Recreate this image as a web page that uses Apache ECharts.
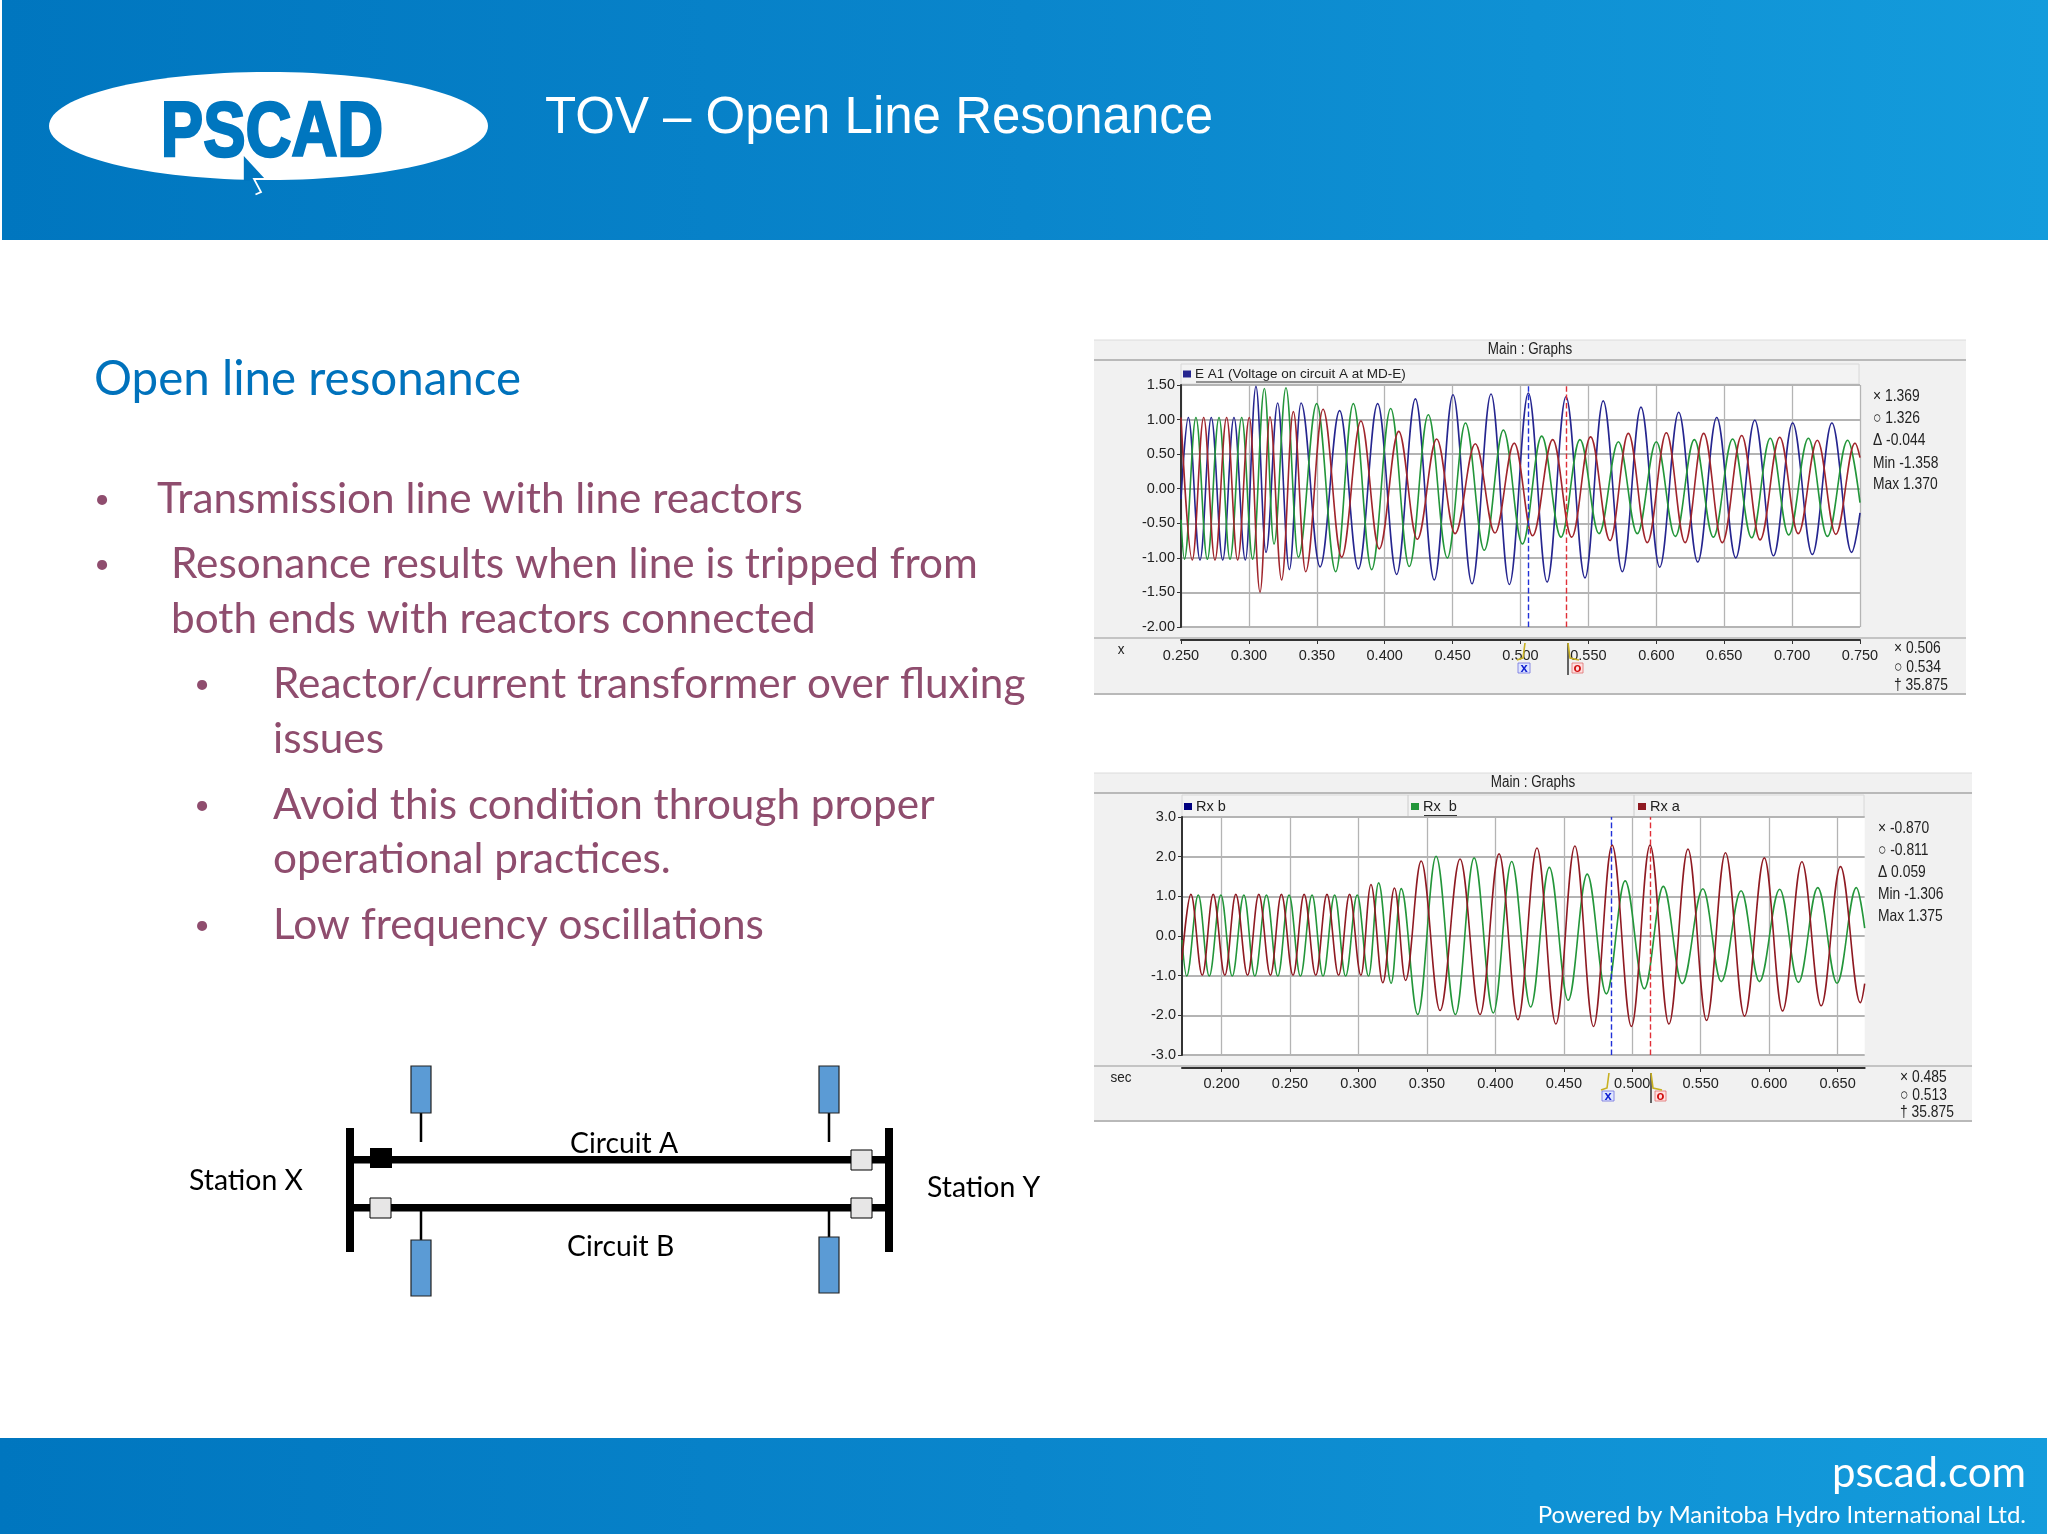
<!DOCTYPE html>
<html><head><meta charset="utf-8"><title>TOV – Open Line Resonance</title>
<style>html,body{margin:0;padding:0;background:#fff}#c{width:2048px;height:1536px}</style>
<script src="https://cdn.jsdelivr.net/npm/echarts@6/dist/echarts.min.js"></script></head>
<body><div id="c"></div><script>
// ---- Upper graph: E A1 (turning points: [time, value])
var upperTickX=[0.25,0.30,0.35,0.40,0.45,0.50,0.55,0.60,0.65,0.70,0.75];
var upperBlue=[[.25,-.15],[.2554,1.03],[.2640,-1.03],[.2723,1.03],[.2807,-1.03],[.2890,1.03],[.2974,-1.03],[.3052,1.48],[.3126,-.92],[.3212,1.24],[.3298,-1.17],[.3384,1.24],[.3524,-1.13],[.3668,1.13],[.3806,-1.16],[.3948,1.23],[.4088,-1.24],[.4226,1.30],[.4365,-1.32],[.4503,1.36],[.4643,-1.375],[.4783,1.37],[.4918,-1.385],[.5058,1.385],[.5196,-1.35],[.5335,1.33],[.5475,-1.29],[.5609,1.27],[.5750,-1.20],[.5887,1.18],[.6025,-1.135],[.6165,1.105],[.6305,-1.06],[.6445,1.03],[.6585,-1.0],[.6725,.99],[.6863,-.97],[.7004,.95],[.7149,-.95],[.7293,.95],[.7438,-.92],[.75,-.35]];
var upperGreen=[[.25,-.45],[.2525,-1.02],[.2610,1.03],[.2694,-1.02],[.2780,1.03],[.2861,-1.02],[.2947,1.03],[.3028,-1.02],[.3114,1.45],[.3185,-.8],[.3273,1.46],[.3364,-.99],[.3499,1.23],[.3639,-1.2],[.3769,1.23],[.3904,-1.17],[.4044,1.16],[.4181,-1.125],[.4321,1.07],[.4461,-1.0],[.4595,.95],[.4733,-.89],[.4874,.85],[.5014,-.80],[.5156,.76],[.5298,-.70],[.5438,.71],[.5578,-.65],[.5721,.68],[.5860,-.65],[.6000,.68],[.6140,-.69],[.6280,.71],[.6420,-.70],[.6562,.72],[.6702,-.71],[.6839,.73],[.6975,-.67],[.7120,.73],[.7260,-.69],[.7409,.70],[.75,-.2]];
var upperRed=[[.25,1.03],[.2583,-1.03],[.2667,1.03],[.2750,-1.03],[.2836,1.03],[.2917,-1.03],[.3003,1.03],[.3082,-1.495],[.3155,1.04],[.3241,-1.32],[.3327,1.115],[.3418,-1.2],[.3546,1.15],[.3683,-.99],[.3825,.98],[.3960,-.87],[.4103,.83],[.4240,-.73],[.4383,.72],[.4518,-.65],[.4667,.65],[.4812,-.64],[.4954,.66],[.5089,-.68],[.5237,.71],[.5377,-.70],[.5516,.75],[.5659,-.75],[.5794,.80],[.5934,-.78],[.6074,.81],[.6212,-.78],[.6349,.80],[.6486,-.78],[.6629,.77],[.6764,-.74],[.6909,.745],[.7045,-.65],[.7186,.70],[.7322,-.66],[.7463,.66],[.75,.45]];
var upperCursors=[0.506,0.534];
var upperName='E A1 (Voltage on circuit A at MD-E)';
var upperReadA=['× 1.369','○ 1.326','Δ -0.044','Min -1.358','Max 1.370'];
var upperReadB=['× 0.506','○ 0.534','† 35.875'];
// ---- Lower graph
var lowerTickX=[0.20,0.25,0.30,0.35,0.40,0.45,0.50,0.55,0.60,0.65];
var lowerGreen=[[.1711,-.1],[.1745,-1.01],[.1830,1.035],[.1910,-1.01],[.1995,1.035],[.2078,-1.01],[.2163,1.035],[.2243,-1.01],[.2328,1.035],[.2411,-1.01],[.2493,1.035],[.2576,-1.01],[.2661,1.035],[.2741,-1.01],[.2826,1.035],[.2906,-1.01],[.2991,1.035],[.3074,-1.01],[.3147,1.34],[.3239,-1.19],[.3312,1.195],[.3433,-1.98],[.3567,2.01],[.3708,-1.98],[.3845,1.97],[.3985,-1.94],[.4119,1.88],[.4258,-1.79],[.4394,1.73],[.4532,-1.62],[.4671,1.56],[.4811,-1.46],[.4948,1.39],[.5088,-1.33],[.5227,1.25],[.5365,-1.20],[.5516,1.19],[.5650,-1.15],[.5795,1.14],[.5929,-1.15],[.6077,1.18],[.6214,-1.17],[.6355,1.22],[.6496,-1.19],[.6637,1.22],[.6698,.2]];
var lowerRed=[[.1711,-.6],[.1776,1.05],[.1859,-.99],[.1939,1.05],[.2024,-.99],[.2104,1.05],[.2190,-.99],[.2272,1.05],[.2357,-.99],[.2437,1.05],[.2522,-.99],[.2603,1.05],[.2688,-.99],[.2770,1.05],[.2855,-.99],[.2935,1.05],[.3018,-.99],[.3091,1.30],[.3178,-1.18],[.3263,1.21],[.3344,-1.12],[.3458,1.89],[.3596,-1.88],[.3742,1.94],[.3888,-1.98],[.4027,2.07],[.4165,-2.11],[.4304,2.22],[.4442,-2.22],[.4581,2.27],[.4717,-2.28],[.4853,2.29],[.4994,-2.28],[.5130,2.29],[.5268,-2.22],[.5407,2.19],[.5543,-2.13],[.5681,2.10],[.5820,-2.02],[.5965,1.97],[.6098,-1.89],[.6239,1.87],[.6380,-1.76],[.6521,1.75],[.6666,-1.68],[.6698,-1.2]];
var lowerCursors=[0.485,0.513];
var lowerNames=['Rx b','Rx  b','Rx a'];
var lowerReadA=['× -0.870','○ -0.811','Δ 0.059','Min -1.306','Max 1.375'];
var lowerReadB=['× 0.485','○ 0.513','† 35.875'];
// ---- Slide text
var slideTitle='TOV – Open Line Resonance';
var heading='Open line resonance';
var bulletLines=['Transmission line with line reactors','Resonance results when line is tripped from','both ends with reactors connected','Reactor/current transformer over fluxing','issues','Avoid this condition through proper','operational practices.','Low frequency oscillations'];

var NAVY='#25258f',GREEN='#23963a',RED='#a0252c';
var NARROW='"Liberation Sans",sans-serif',BODY='Lato,"Open Sans",sans-serif';
function T(t,x,y,size,fill,family,align,weight,extra){
  extra=extra||{};
  var el={type:'text',z:extra.z||20,style:Object.assign({text:t,x:x,y:y,fill:fill,font:(weight||'normal')+' '+size+'px '+family,align:align||'left',verticalAlign:'middle'},extra.style||{})};
  if(extra.sx){el.scaleX=extra.sx;el.originX=x;el.originY=y;}
  return el;
}
function R(x,y,w,h,fill,stroke,lw,z){return {type:'rect',z:z==null?10:z,shape:{x:x,y:y,width:w,height:h},style:{fill:fill,stroke:stroke||null,lineWidth:lw||0}};}
function L(x1,y1,x2,y2,color,w,z){return {type:'line',z:z==null?10:z,shape:{x1:x1,y1:y1,x2:x2,y2:y2},style:{stroke:color,lineWidth:w}};}
function P(pts,color,w){return {type:'polyline',z:25,shape:{points:pts},style:{stroke:color,lineWidth:w,fill:null}};}
function grad(){return new echarts.graphic.LinearGradient(0,0,1,0,[{offset:0,color:'#0076bf'},{offset:.5,color:'#0a86cc'},{offset:1,color:'#149cdc'}]);}

var g=[];
// header / footer
g.push(R(2,0,2046,240,grad(),null,0,-5),R(0,1438,2047,96,grad(),null,0,-5));
// logo
g.push({type:'ellipse',z:5,shape:{cx:268.5,cy:126,rx:219.5,ry:54},style:{fill:'#fff'}});
g.push(T('PSCAD',272,134,78,'#0076bf',NARROW,'center','bold',{sx:.815,style:{stroke:'#0076bf',lineWidth:2.5}}));
g.push({type:'polygon',z:6,shape:{points:[[243.8,156],[243.8,181],[265,179]]},style:{fill:'#0076bf'}});
g.push({type:'polyline',z:7,shape:{points:[[265,179],[254,179],[261,192],[255.5,194.5]]},style:{stroke:'#fff',lineWidth:1.8,fill:null}});
g.push(T(slideTitle,545,119,51,'#fff','"Liberation Sans",sans-serif'));
g.push(T('pscad.com',2026,1473,42,'#fff',BODY,'right'));
g.push(T('Powered by Manitoba Hydro International Ltd.',2026,1515,24,'#fff',BODY,'right'));
// left text
g.push(T(heading,94,380,47.5,'#0072bc',BODY));
var lx=[157,171,171,273,273,273,273,273],ly=[499,564,619,684,739,805,859,925];
bulletLines.forEach(function(s,i){g.push(T(s,lx[i],ly[i],42.3,'#8f4d6e',BODY));});
[[102,499],[102,564],[202,684],[202,805],[202,925]].forEach(function(p){g.push(T('•',p[0],p[1],27,'#8f4d6e',BODY,'center'));});
// diagram
var BK='#000';
g.push(R(346,1128,8,124,BK),R(885,1128,8,124,BK),R(350,1156,539,7.5,BK),R(350,1204,539,7.5,BK));
g.push(R(370,1148,22,20,BK));
[[851,1150],[370,1198],[851,1198]].forEach(function(p){g.push(R(p[0],p[1],21,20,'#e7e6e6',BK,1,11));});
g.push(L(421,1113,421,1142,BK,2.5),L(829,1113,829,1142,BK,2.5),L(421,1210,421,1240,BK,2.5),L(829,1204,829,1237,BK,2.5));
[[411,1066,47],[819,1066,47],[411,1240,56],[819,1237,56]].forEach(function(p){g.push(R(p[0],p[1],20,p[2],'#5b9bd5','#222',1.2,11));});
g.push(T('Station X',189,1181,28.4,'#000',BODY),T('Station Y',927,1188,28.4,'#000',BODY),T('Circuit A',570,1144,28.3,'#000',BODY),T('Circuit B',567,1247,28.3,'#000',BODY));
// graph panels
function panel(x,y,w,h,lineY,sepY,gl,gr,barTop,barBot,title,titleX,titleY,lab,labY){
  g.push(R(x,y,w,h,'#f1f1f1',null,0,-4));
  g.push(L(x,lineY,x+w,lineY,'#b9b9b9',2,-3),L(x,y+h,x+w,y+h,'#b9b9b9',2,-3),L(x,y,x+w,y,'#dcdcdc',1,-3),L(x,sepY,x+w,sepY,'#c4c4c4',2,-3));
  g.push(R(gl,barTop,gr-gl,barBot-barTop,'#f3f3f3','#d8d8d8',1,-3));
  g.push(T(title,titleX,titleY,16,'#222',NARROW,'center',null,{sx:.84}));
  g.push(T(lab,1121,labY,15,'#222',NARROW,'center',null,{sx:.9}));
}
panel(1094,340,872,354,360,638,1181,1859,364,384,'Main : Graphs',1530,350,'x',650);
panel(1094,773,878,348,793,1066,1182,1864,795,817,'Main : Graphs',1533,783,'sec',1078);
g.push(L(1408,795,1408,817,'#ccc',1,-2),L(1634,795,1634,817,'#ccc',1,-2));
var rd={sx:.84};
upperReadA.forEach(function(s,i){g.push(T(s,1873,[396,418,440,463,484][i],16.5,'#222',NARROW,'left',null,rd));});
upperReadB.forEach(function(s,i){g.push(T(s,1894,[648,667,685][i],16.5,'#222',NARROW,'left',null,rd));});
lowerReadA.forEach(function(s,i){g.push(T(s,1878,[828,850,872,894,916][i],16.5,'#222',NARROW,'left',null,rd));});
lowerReadB.forEach(function(s,i){g.push(T(s,1900,[1077,1095,1112][i],16.5,'#222',NARROW,'left',null,rd));});
// legend underlines
g.push(L(1196,382,1402,382,'#333',1,21),L(1424,815.5,1457,815.5,'#333',1,21));
// cursor flags
function flags(xb,xr,yTop,yBox){
  g.push(P([[xb-7,yTop+17],[xb-1,yTop+15],[xb+1,yTop]],'#c8b020',1.6));
  g.push(P([[xr-5,yTop],[xr-3,yTop+15],[xr+6,yTop+17]],'#c8b020',1.6));
  g.push(L(xr-5,yTop,xr-5,yBox+7,'#333',1.5,24));
  g.push(R(xb-6,yBox-5,12,10,'#dfe6ff','#7070e0',.8,24),R(xr-1,yBox-5,11,10,'#ffe0e0','#e07070',.8,24));
  g.push(T('x',xb,yBox,13,'#1020d0',NARROW,'center','bold',{z:26}),T('o',xr+4.5,yBox,13,'#d01010',NARROW,'center','bold',{z:26}));
}
flags(1524,1573,643,668);
flags(1608,1656,1073,1096);

function axisX(idx,ticks,mn,mx,mg){return {type:'value',gridIndex:idx,min:mn,max:mx,offset:13,position:'bottom',
  axisLine:{onZero:false,lineStyle:{color:'#333',width:2}},axisTick:{length:4,inside:false,customValues:ticks,lineStyle:{color:'#333'}},
  axisLabel:{customValues:ticks,formatter:function(v){return v.toFixed(3);},margin:mg,color:'#222',fontFamily:NARROW,fontSize:14.5},
  splitLine:{show:true,lineStyle:{color:'#b4b4b4',width:1.3}}};}
function axisY(idx,mn,mx,iv,dec){return {type:'value',gridIndex:idx,min:mn,max:mx,interval:iv,
  axisLine:{show:true,onZero:false,lineStyle:{color:'#333',width:2}},axisTick:{show:true,length:4,lineStyle:{color:'#333'}},
  axisLabel:{formatter:function(v){return v.toFixed(dec);},margin:6,color:'#222',fontFamily:NARROW,fontSize:14.5},
  splitLine:{show:true,lineStyle:{color:'#b4b4b4',width:2}}};}
function line(name,xi,data,color,cursors){
  var s={name:name,type:'line',xAxisIndex:xi,yAxisIndex:xi,data:data,showSymbol:false,symbol:'none',smooth:.37,smoothMonotone:'x',
    lineStyle:{color:color,width:1.6},itemStyle:{color:color},silent:true,animation:false,z:3};
  if(cursors)s.markLine={silent:true,symbol:'none',animation:false,precision:3,label:{show:false},
    data:[{xAxis:cursors[0],lineStyle:{color:'#2030d8',type:'dashed',width:1.4}},{xAxis:cursors[1],lineStyle:{color:'#e03038',type:'dashed',width:1.4}}]};
  return s;
}
function leg(name,left,top,fs){return {show:true,data:[name],left:left,top:top,icon:'rect',itemWidth:8,itemHeight:7,itemGap:0,padding:0,selectedMode:false,z:22,
  textStyle:{color:'#222',fontFamily:NARROW,fontSize:fs,padding:[0,0,0,-1]}};}

var opt={animation:false,backgroundColor:'#fff',tooltip:{show:false},
  grid:[{left:1181,top:385,width:679,height:242,show:true,backgroundColor:'#fff',borderWidth:0},
        {left:1182,top:817,width:682.7,height:238,show:true,backgroundColor:'#fff',borderWidth:0}],
  xAxis:[axisX(0,upperTickX,.25,.75,8),axisX(1,lowerTickX,.1711,.6698,8)],
  yAxis:[axisY(0,-2,1.5,.5,2),axisY(1,-3,3,1,1)],
  legend:[leg(upperName,1183,367,13.5),leg(lowerNames[0],1184,799,14.5),leg(lowerNames[1],1411,799,14.5),leg(lowerNames[2],1638,799,14.5)],
  series:[line(upperName,0,upperBlue,NAVY),line('upper green',0,upperGreen,GREEN),line('upper red',0,upperRed,RED,upperCursors),
          line(lowerNames[0],1,[],'#000080'),line(lowerNames[1],1,lowerGreen,GREEN),line(lowerNames[2],1,lowerRed,'#8f1a22',lowerCursors)],
  graphic:{elements:g}};
var chart=echarts.init(document.getElementById('c'),null,{width:2048,height:1536});
chart.setOption(opt);
</script></body></html>
